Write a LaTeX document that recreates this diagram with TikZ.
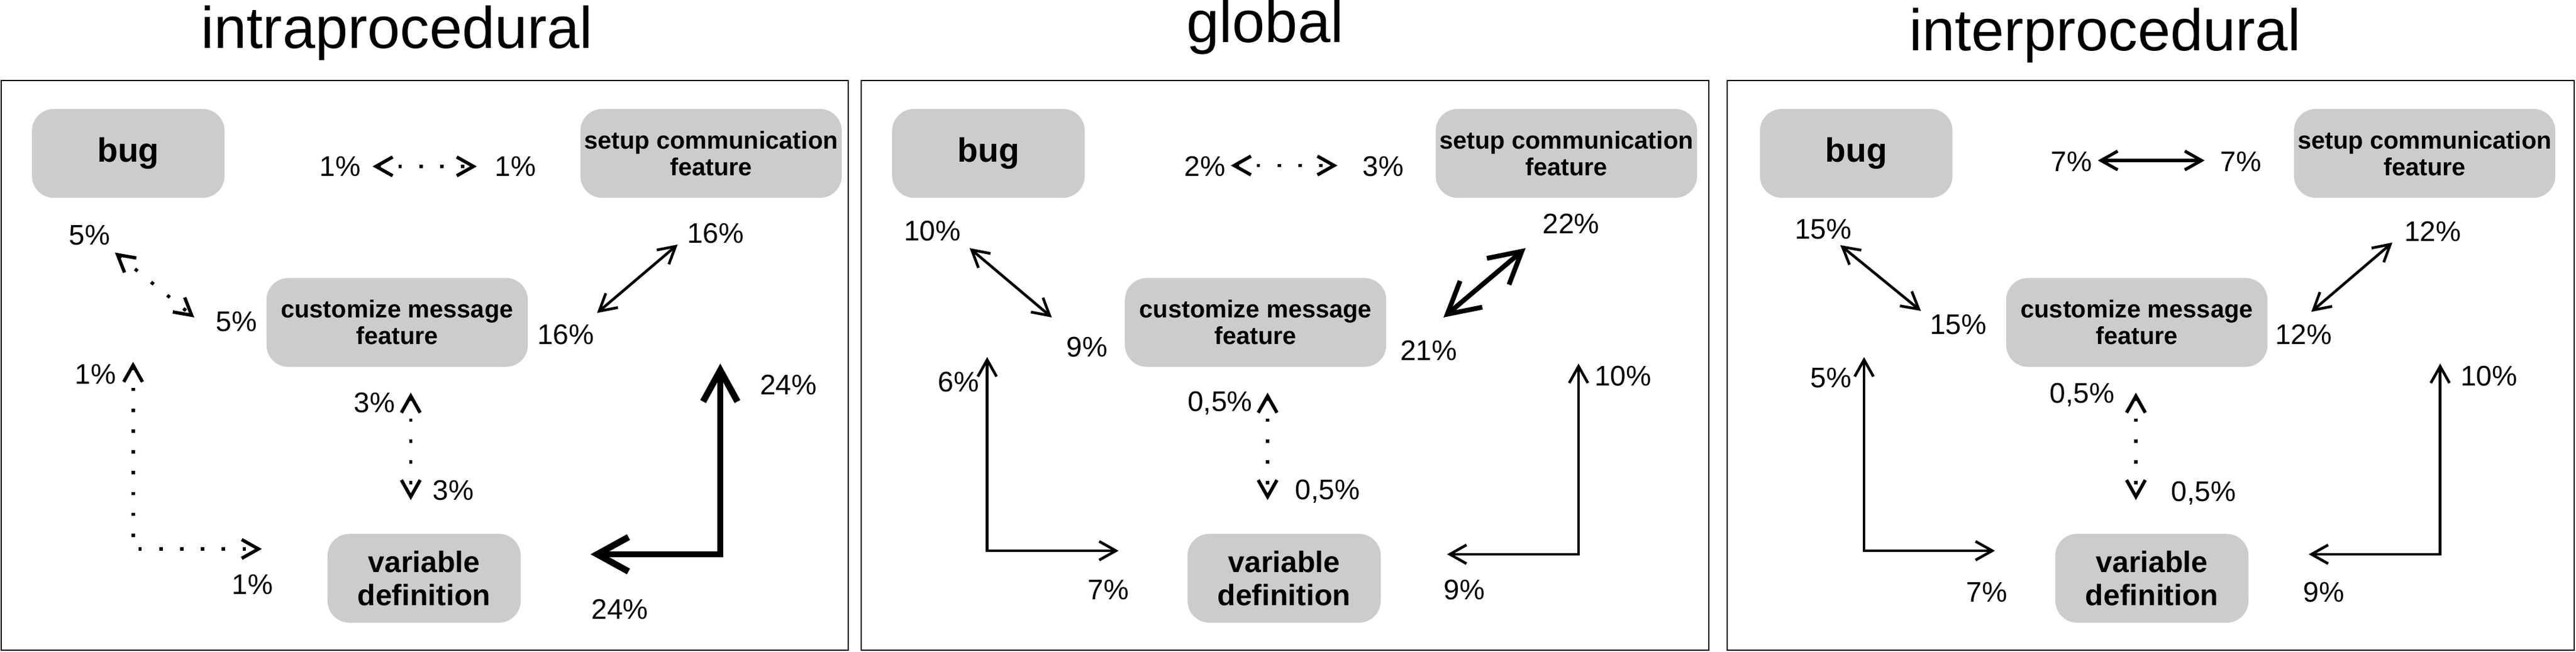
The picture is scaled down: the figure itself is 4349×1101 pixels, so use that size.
\documentclass[tikz,border=0pt]{standalone}
\usepackage{fontspec}
\setmainfont{Liberation Sans}
\usetikzlibrary{arrows.meta}
\definecolor{boxgray}{RGB}{204,204,204}

\begin{document}
\begin{tikzpicture}[x=0.01cm, y=-0.01cm, >={Straight Barb[length=8pt,width=9pt]},
	topic/.style={rectangle, rounded corners=0.37cm, fill=boxgray, inner sep=0pt,
		minimum height=1.5cm, align=center, font=\bfseries\fontsize{11.8}{12.8}\selectfont},
	panel/.style={draw, line width=0.8pt},
	heading/.style={anchor=base, inner sep=0pt, font=\fontsize{28.2}{34}\selectfont},
	pct/.style={inner sep=0pt, font=\fontsize{13.6}{16}\selectfont},
	link/.style={<->, line width=1.3pt},
	midlink/.style={<->, line width=1.5pt},
	dotlink/.style={<->, line width=1.6pt, dash pattern=on 1.6pt off 8.4pt},
	boldlink/.style={{Straight Barb[length=15pt,width=16.5pt]}-{Straight Barb[length=15pt,width=16.5pt]}, line width=2.3pt},
	heavylink/.style={boldlink, line width=3.1pt}]
	\useasboundingbox (0,0) rectangle (4349,1101);
	% frames and headings
	\foreach \l/\r/\tx/\ty/\t in {2/1432/670/82/intraprocedural, 1454/2885/2136/72/global,
		2916/4346/3554/86/interprocedural}
		{
			\draw[panel] (\l,136) rectangle (\r,1098);
			\node[heading] (title-\t) at (\tx,\ty) {\t};
		}
	% the four boxes of each panel
	\foreach \p/\bx/\sx/\cx/\vx in {a/216.5/1200.5/670.5/716, b/1668.8/2644.5/2119.8/2168,
		c/3133.8/4093.4/3607.5/3633}
		{
			\node[topic, minimum width=3.25cm, font=\bfseries\fontsize{16.2}{19}\selectfont]
				(\p-bug) at (\bx,259) {bug};
			\node[topic, minimum width=4.41cm] (\p-setup) at (\sx,259) {setup communication\\feature};
			\node[topic, minimum width=4.41cm] (\p-cust) at (\cx,544.5) {customize message\\feature};
			\node[topic, minimum width=3.26cm, font=\bfseries\fontsize{14.2}{16.1}\selectfont]
				(\p-var) at (\vx,976.5) {variable\\definition};
		}

	% intraprocedural
	\foreach \n/\x/\y in {bs1/629/281, bs2/805/281, bc1/194/426.5, bc2/328/536, cs1/1008/528.5,
		cs2/1144/413, bv1/224.7/611, bv2/442/927, cv1/693.5/663, cv2/693.5/844.5,
		sv1/1216/614, sv2/997/936}
		\coordinate (a-\n) at (\x,\y);
	\foreach \n/\x/\y/\t in {bs1/574.5/281/1, bs2/870.5/281/1, bc1/151/397/5, bc2/399/543/5,
		cs1/955/565/16, cs2/1208/394/16, bv1/161/632/1, bv2/426.5/987/1, cv1/632.5/680/3,
		cv2/765/828/3, sv1/1331/650/24, sv2/1046.5/1029/24}
		\node[pct] (a-\n-t) at (\x,\y) {\t\%};
	\draw[dotlink] (a-bs1) -- (a-bs2);
	\draw[dotlink] (a-bc1) -- (a-bc2);
	\draw[link] (a-cs1) -- (a-cs2);
	\draw[dotlink] (a-bv1) |- (a-bv2);
	\draw[dotlink] (a-cv1) -- (a-cv2);
	\draw[heavylink] (a-sv1) |- (a-sv2);

	% global
	\foreach \n/\x/\y in {bs1/2078/279.5, bs2/2258/279.5, bc1/1637/419, bc2/1775.7/536,
		cs1/2437/536, cs2/2575.6/419, bv1/1666.6/603, bv2/1888.5/930, cv1/2140/663,
		cv2/2140/844.5, sv1/2665/614, sv2/2443/936}
		\coordinate (b-\n) at (\x,\y);
	\foreach \n/\x/\y/\t in {bs1/2034/281/2, bs2/2335.5/281/3, bc1/1574/390/10, bc2/1835/586/9,
		cs1/2412/592/21, cs2/2652.5/378/22, bv1/1618/645.5/6, bv2/1871/996/7,
		cv1/2059.6/681/{0,5}, cv2/2241/829.5/{0,5}, sv1/2740/635/10, sv2/2472/996/9}
		\node[pct] (b-\n-t) at (\x,\y) {\t\%};
	\draw[dotlink] (b-bs1) -- (b-bs2);
	\draw[link] (b-bc1) -- (b-bc2);
	\draw[boldlink] (b-cs1) -- (b-cs2);
	\draw[link] (b-bv1) |- (b-bv2);
	\draw[dotlink] (b-cv1) -- (b-cv2);
	\draw[link] (b-sv1) |- (b-sv2);

	% interprocedural
	\foreach \n/\x/\y in {bs1/3541.7/271, bs2/3722/271, bc1/3107/414, bc2/3243/525,
		cs1/3902/526.6, cs2/4039/409.6, bv1/3147/603, bv2/3368/930, cv1/3606/663,
		cv2/3606/844.5, sv1/4119.6/614, sv2/3897.7/936}
		\coordinate (c-\n) at (\x,\y);
	\foreach \n/\x/\y/\t in {bs1/3497.5/273/7, bs2/3783/273/7, bc1/3078/387.5/15, bc2/3306/548/15,
		cs1/3889/565/12, cs2/4107/391/12, bv1/3091/638/5, bv2/3354/1000/7,
		cv1/3515/667/{0,5}, cv2/3720/833/{0,5}, sv1/4202/635/10, sv2/3923/1000/9}
		\node[pct] (c-\n-t) at (\x,\y) {\t\%};
	\draw[midlink] (c-bs1) -- (c-bs2);
	\draw[link] (c-bc1) -- (c-bc2);
	\draw[link] (c-cs1) -- (c-cs2);
	\draw[link] (c-bv1) |- (c-bv2);
	\draw[dotlink] (c-cv1) -- (c-cv2);
	\draw[link] (c-sv1) |- (c-sv2);
\end{tikzpicture}
\end{document}
